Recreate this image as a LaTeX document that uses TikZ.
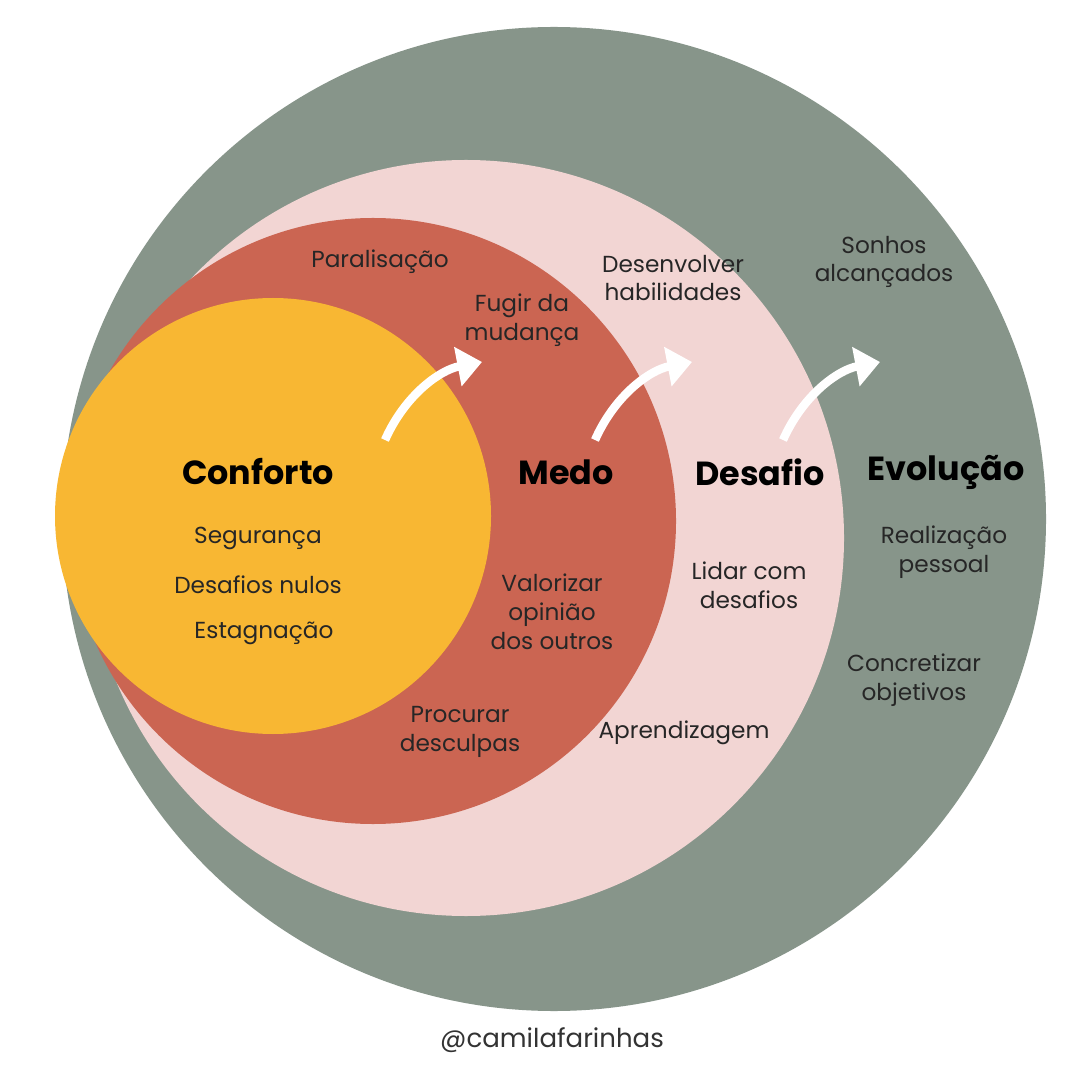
\documentclass[tikz,border=0pt]{standalone}
\usepackage{fontspec}
\setmainfont{Poppins}
\usetikzlibrary{arrows.meta}
\definecolor{evogreen}{HTML}{87958A}
\definecolor{desafiopink}{HTML}{F2D5D3}
\definecolor{medored}{HTML}{CB6552}
\definecolor{confortoyellow}{HTML}{F8B733}

\begin{document}
\begin{tikzpicture}[
        x=0.01cm, y=-0.01cm,
        label/.style={align=center, font=\fontsize{6.6}{8.2}\selectfont, text=black!85},
        title/.style={font=\fontsize{9.5}{11}\selectfont\bfseries, text=black},
        arrow/.style={-{Triangle[length=7pt,width=11pt]}, white, line width=2.4pt}
    ]
    \useasboundingbox (0,0) rectangle (1080,1080);
    \fill[white] (0,0) rectangle (1080,1080);

    % Zones
    \fill[evogreen] (554,519) circle (492);
    \fill[desafiopink] (466,538) circle (378);
    \fill[medored] (373,521) circle (303);
    \fill[confortoyellow] (273,516) circle (218);

    % Titles
    \node[title] (conforto) at (258,472) {Conforto};
    \node[title] (medo) at (566,472) {Medo};
    \node[title] (desafio) at (760,472) {Desafio};
    \node[title] (evolucao) at (946,472) {Evolução};

    % Conforto
    \node[label] (seguranca) at (258,538) {Segurança};
    \node[label] (nulos) at (258,585) {Desafios nulos};
    \node[label] (estagnacao) at (264,633) {Estagnação};

    % Medo
    \node[label] (paralisacao) at (380,262) {Paralisação};
    \node[label] (fugir) at (522,320) {Fugir da\\mudança};
    \node[label] (valorizar) at (552,612) {Valorizar\\opinião\\dos outros};
    \node[label] (desculpas) at (460,732) {Procurar\\desculpas};

    % Desafio
    \node[label] (habilidades) at (673,278) {Desenvolver\\habilidades};
    \node[label] (lidar) at (749,585) {Lidar com\\desafios};
    \node[label] (aprendizagem) at (684,733) {Aprendizagem};

    % Evolucao
    \node[label] (sonhos) at (884,262) {Sonhos\\alcançados};
    \node[label] (realizacao) at (944,552) {Realização\\pessoal};
    \node[label] (objetivos) at (914,680) {Concretizar\\objetivos};

    % Arrows
    \foreach \dx [count=\i] in {0,210,398} {
        \coordinate (a\i) at (385+\dx,440);
        \coordinate (b\i) at (482+\dx,362);
        \draw[arrow] (a\i) .. controls (405+\dx,395) and (440+\dx,370) .. (b\i);
    }

    \node[font=\fontsize{7.4}{9}\selectfont, text=black!80] (handle) at (552,1040) {@camilafarinhas};
\end{tikzpicture}
\end{document}
